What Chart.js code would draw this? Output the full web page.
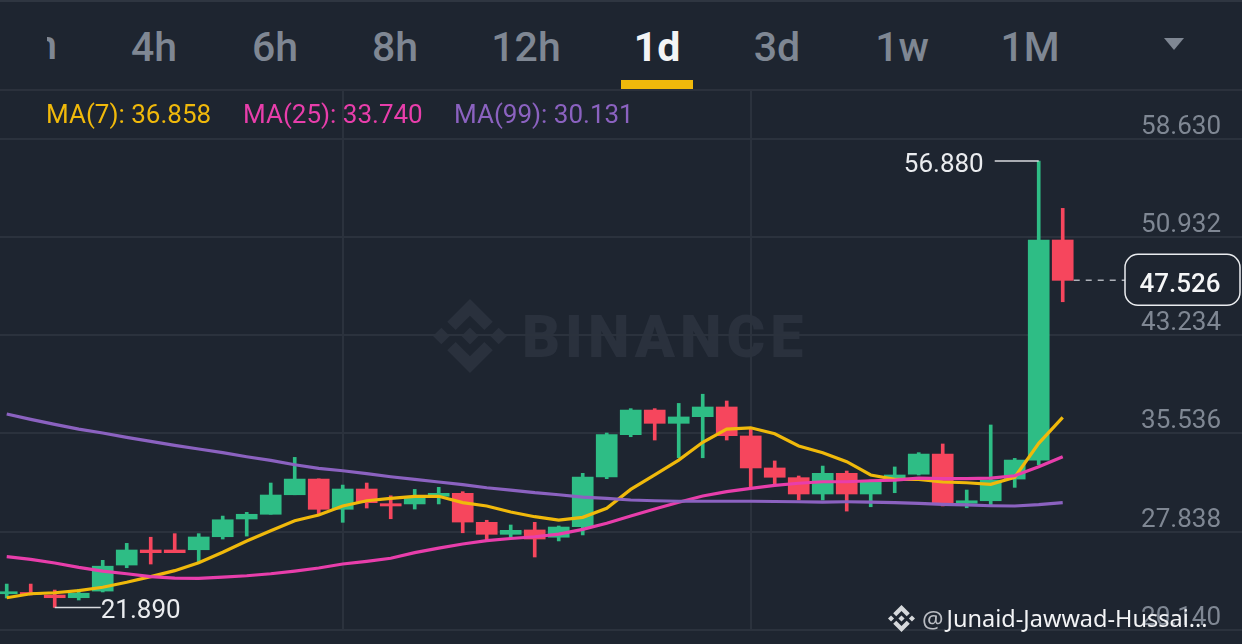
<!DOCTYPE html>
<html>
<head>
<meta charset="utf-8">
<title>1d</title>
<script src="https://cdn.jsdelivr.net/npm/chart.js@4/dist/chart.umd.js"></script>
<style>
html, body { margin: 0; padding: 0; background: #1e2530; }
body { position: relative; width: 1242px; height: 644px; overflow: hidden; font-family: Roboto, sans-serif; }
#topline { position: absolute; left: 0; top: 0; width: 1242px; height: 2px; background: #2f3641; }
#tabs { position: absolute; left: 0; top: 2px; width: 1242px; height: 87px; border-bottom: 2px solid #2b313c; }
.tab { position: absolute; top: 21px; font-size: 41px; line-height: 48px; font-weight: 500; color: #7f8793; transform: translateX(-50%); }
.tab.on { color: #f2f3f5; font-weight: 700; }
#tabclip { position: absolute; left: 47px; top: 21px; width: 10px; height: 48px; overflow: hidden; font-size: 41px; line-height: 48px; font-weight: 500; color: #7f8793; }
#tabclip span { position: absolute; right: 0; }
#underline { position: absolute; left: 621px; top: 80px; width: 72px; height: 9px; background: #f0b90b; }
#caret { position: absolute; left: 1164px; top: 38px; width: 0; height: 0; border-left: 10px solid transparent; border-right: 10px solid transparent; border-top: 12px solid #7f8793; }
#wrap { position: absolute; left: 0; top: 91px; width: 1242px; height: 553px; }
#grafica { position: absolute; left: 0; top: 0; }
#marca { position: absolute; left: 433px; top: 208px; color: #2a313d; display: flex; align-items: center; }
#marca svg { width: 74px; height: 74px; fill: #2a313d; }
#marca span { font-size: 59px; font-weight: 900; letter-spacing: 5px; margin-left: 15px; }
.ma { position: absolute; top: 98px; font-size: 26px; line-height: 32px; white-space: nowrap; }
#autor { position: absolute; left: 888px; top: 603px; height: 30px; display: flex; align-items: center; white-space: nowrap; }
#autor svg { width: 27px; height: 27px; fill: #d6d8db; }
#autor .arroba { font: 24px "Noto Sans", sans-serif; color: #b9bcc2; margin-left: 7px; }
#autor .nombre { font: 23.5px "Noto Sans", sans-serif; color: #f2f3f5; margin-left: 3px; letter-spacing: 0; }
</style>
</head>
<body>
<div id="wrap">
  <div id="marca">
    <svg viewBox="0 0 126.61 126.61"><path d="M38.73 53.2L63.3 28.63l24.6 24.6 14.3-14.31L63.3 0 24.42 38.88zM0 63.31l14.31-14.31 14.31 14.31-14.31 14.3zM38.73 73.41L63.3 97.98l24.6-24.6 14.31 14.29-38.91 38.91-38.88-38.87zM98 63.31L112.31 49l14.3 14.31-14.3 14.31zM77.83 63.3L63.3 48.76 48.78 63.28 63.3 77.78z"/></svg>
    <span>BINANCE</span>
  </div>
  <canvas id="grafica" width="1242" height="553"></canvas>
</div>
<div id="topline"></div>
<div id="tabs"></div>
<div id="tabclip"><span>1h</span></div>
<div id="underline"></div>
<div id="caret"></div>
<div id="autor">
  <svg viewBox="0 0 126.61 126.61"><path d="M38.73 53.2L63.3 28.63l24.6 24.6 14.3-14.31L63.3 0 24.42 38.88zM0 63.31l14.31-14.31 14.31 14.31-14.31 14.3zM38.73 73.41L63.3 97.98l24.6-24.6 14.31 14.29-38.91 38.91-38.88-38.87zM98 63.31L112.31 49l14.3 14.31-14.3 14.31zM77.83 63.3L63.3 48.76 48.78 63.28 63.3 77.78z"/></svg>
  <span class="arroba">@</span><span class="nombre">Junaid-Jawwad-Hussai...</span>
</div>
<script>
// daily candles
const dias = [0,1,2,3,4,5,6,7,8,9,10,11,12,13,14,15,16,17,18,19,20,21,22,23,24,25,26,27,28,29,30,31,32,33,34,35,36,37,38,39,40,41,42,43,44];
const aperturas = [22.96,23.06,22.86,22.65,23.17,25.21,26.39,26.39,26.41,27.43,28.82,29.19,30.72,31.95,29.58,31.17,30.02,30.00,30.60,30.83,28.56,27.62,27.96,27.39,28.22,32.11,35.43,37.36,36.32,36.84,37.60,35.33,32.82,32.06,30.78,32.40,30.78,31.93,32.33,33.91,30.05,30.25,31.95,33.44,50.69];
const maximos = [23.72,23.72,23.25,23.31,25.58,26.91,27.39,27.67,27.67,29.05,29.34,31.64,33.65,31.97,31.48,31.64,30.64,31.14,31.30,30.96,28.72,28.35,28.56,28.27,32.40,35.56,37.47,37.47,37.88,38.60,38.07,35.95,33.37,32.19,32.97,32.58,31.87,32.90,34.02,34.70,31.09,36.19,33.57,56.88,53.17];
const minimos = [22.63,22.86,21.89,22.47,23.10,25.00,25.29,26.18,25.47,27.25,27.48,29.19,30.72,29.21,28.56,29.68,28.84,29.60,30.00,27.74,27.17,27.33,25.84,27.10,27.57,31.98,35.27,35.01,33.62,33.62,35.01,31.25,31.48,30.31,30.31,29.44,29.78,30.88,32.27,29.84,29.70,29.92,31.30,33.05,45.85];
const cierres = [23.12,22.90,22.65,23.00,25.12,26.39,26.18,26.18,27.41,28.76,29.19,30.70,31.95,29.58,31.17,30.10,29.84,30.57,30.83,28.58,27.62,27.93,27.25,28.19,32.11,35.43,37.36,36.32,36.82,37.60,35.35,32.82,32.09,30.78,32.40,30.78,31.80,32.27,33.91,30.10,30.25,31.87,33.44,50.69,47.526];

const ma7 = [22.65,22.96,23.04,23.20,23.47,23.86,24.30,24.77,25.39,26.21,27.10,27.90,28.69,29.13,29.84,30.25,30.44,30.60,30.60,30.10,29.84,29.37,29.00,28.74,28.95,29.66,31.14,32.27,33.44,34.83,35.87,35.97,35.50,34.54,34.02,33.31,32.27,31.93,31.93,31.72,31.66,31.54,32.09,34.75,36.79];
const ma25 = [25.87,25.66,25.37,25.03,24.74,24.53,24.30,24.19,24.17,24.27,24.37,24.53,24.74,24.98,25.29,25.50,25.74,26.18,26.54,26.86,27.13,27.29,27.43,27.64,28.01,28.48,29.05,29.60,30.13,30.62,30.96,31.22,31.46,31.62,31.74,31.74,31.82,31.87,32.03,31.98,31.98,32.03,32.21,32.92,33.70];
const ma99 = [37.05,36.63,36.24,35.87,35.56,35.22,34.91,34.59,34.31,34.02,33.70,33.42,33.07,32.79,32.60,32.37,32.13,31.93,31.72,31.51,31.27,31.09,30.88,30.72,30.54,30.44,30.31,30.25,30.21,30.21,30.21,30.21,30.19,30.17,30.15,30.17,30.15,30.10,30.05,29.97,29.92,29.86,29.84,29.94,30.10];

const ticksPrecio = [58.630,50.932,43.234,35.536,27.838,20.140];
const ticksDia = [14,31];
const intervalos = ["4h","6h","8h","12h","1d","3d","1w","1M"];
const leyendaMA = ["MA(7): 36.858","MA(25): 33.740","MA(99): 30.131"];
const precioMaximo = 56.880;
const precioMinimo = 21.890;
const precioActual = 47.526;

const VERDE = "#2ebd85";
const ROJO = "#f6465d";
const AMARILLO = "#f0b90b";
const ROSA = "#e83eab";
const MORADO = "#8b62c0";

// tab bar
const centrosTab = [154,275,395,526,657,777,902,1030];
const tabs = document.getElementById("tabs");
intervalos.forEach((t, i) => {
    let d = document.createElement("div");
    d.className = t === "1d" ? "tab on" : "tab";
    d.style.left = centrosTab[i] + "px";
    d.innerText = t;
    tabs.appendChild(d);
});

// MA legend
const coloresMA = [AMARILLO, ROSA, MORADO];
const inicioMA = [46, 243, 454];
leyendaMA.forEach((t, i) => {
    let d = document.createElement("div");
    d.className = "ma";
    d.style.left = inicioMA[i] + "px";
    d.style.color = coloresMA[i];
    d.innerText = t;
    document.body.appendChild(d);
});

const colores = dias.map((d, i) => cierres[i] >= aperturas[i] ? VERDE : ROJO);

function linea(valores, color){
    return {
        type: "line",
        data: dias.map((d, i) => ({x: d, y: valores[i]})),
        borderColor: color,
        borderWidth: 3.2,
        pointRadius: 0,
        tension: 0,
        order: 1
    };
}

// high, low and last price tags
const etiquetas = {
    id: "etiquetas",
    afterDatasetsDraw(chart){
        const {ctx, scales} = chart;
        const yMax = scales.y.getPixelForValue(precioMaximo);
        const xMax = scales.x.getPixelForValue(dias[maximos.indexOf(precioMaximo)]);
        const yMin = scales.y.getPixelForValue(precioMinimo);
        const xMin = scales.x.getPixelForValue(dias[minimos.indexOf(precioMinimo)]);
        const yAct = scales.y.getPixelForValue(precioActual);
        const xAct = scales.x.getPixelForValue(dias[dias.length - 1]);

        ctx.save();
        ctx.font = "26px Roboto";
        ctx.textBaseline = "middle";
        ctx.strokeStyle = "#d8dade";
        ctx.fillStyle = "#eaecef";
        ctx.lineWidth = 1.5;

        ctx.beginPath();
        ctx.moveTo(xMax - 44, yMax);
        ctx.lineTo(xMax, yMax);
        ctx.stroke();
        ctx.textAlign = "right";
        ctx.fillText(precioMaximo.toFixed(3), xMax - 55, yMax + 4);

        ctx.beginPath();
        ctx.moveTo(xMin, yMin);
        ctx.lineTo(xMin + 46, yMin);
        ctx.stroke();
        ctx.textAlign = "left";
        ctx.fillText(precioMinimo.toFixed(3), xMin + 46, yMin + 4);

        ctx.strokeStyle = "#aeb2b9";
        ctx.setLineDash([6, 6]);
        ctx.beginPath();
        ctx.moveTo(xAct + 11, yAct);
        ctx.lineTo(1125, yAct);
        ctx.stroke();
        ctx.setLineDash([]);

        ctx.beginPath();
        ctx.roundRect(1125, yAct - 26, 115, 51, 13);
        ctx.fillStyle = "#1e2530";
        ctx.fill();
        ctx.strokeStyle = "#eaecef";
        ctx.stroke();
        ctx.fillStyle = "#f5f6f7";
        ctx.textAlign = "center";
        ctx.font = "500 26px Roboto";
        ctx.fillText(precioActual.toFixed(3), 1180, yAct + 5);
        ctx.restore();
    }
};

const grafica = new Chart("grafica", {
    data: {
        datasets: [
            linea(ma99, MORADO),
            linea(ma25, ROSA),
            linea(ma7, AMARILLO),
            {
                type: "bar",
                data: dias.map((d, i) => ({x: d, y: [aperturas[i], cierres[i]]})),
                backgroundColor: colores,
                barThickness: 21,
                grouped: false,
                order: 2
            },
            {
                type: "bar",
                data: dias.map((d, i) => ({x: d, y: [minimos[i], maximos[i]]})),
                backgroundColor: colores,
                barThickness: 3,
                grouped: false,
                order: 3
            }
        ]
    },
    plugins: [etiquetas],
    options: {
        responsive: false,
        animation: false,
        layout: {padding: {bottom: 13}, autoPadding: false},
        plugins: {legend: {display: false}, tooltip: {enabled: false}},
        scales: {
            x: {
                type: "linear",
                offset: false,
                min: -0.28,
                max: 51.47,
                afterBuildTicks: (s) => { s.ticks = ticksDia.map(v => ({value: v})); },
                afterFit: (s) => { s.height = 0; },
                grid: {offset: false, color: "#2b323d", lineWidth: 2, drawTicks: false},
                border: {display: false},
                ticks: {display: false}
            },
            y: {
                type: "linear",
                position: "right",
                min: 20.04,
                max: 62.37,
                afterBuildTicks: (s) => { s.ticks = ticksPrecio.map(v => ({value: v})); },
                afterFit: (s) => { s.width = 0; },
                grid: {color: "#2b323d", lineWidth: 2, drawTicks: false},
                border: {display: false},
                ticks: {
                    mirror: true,
                    padding: -21,
                    labelOffset: -11.5,
                    color: "#7f8793",
                    font: {family: "Roboto", size: 26},
                    callback: (v) => v.toFixed(3)
                }
            }
        }
    }
});
</script>
</body>
</html>
